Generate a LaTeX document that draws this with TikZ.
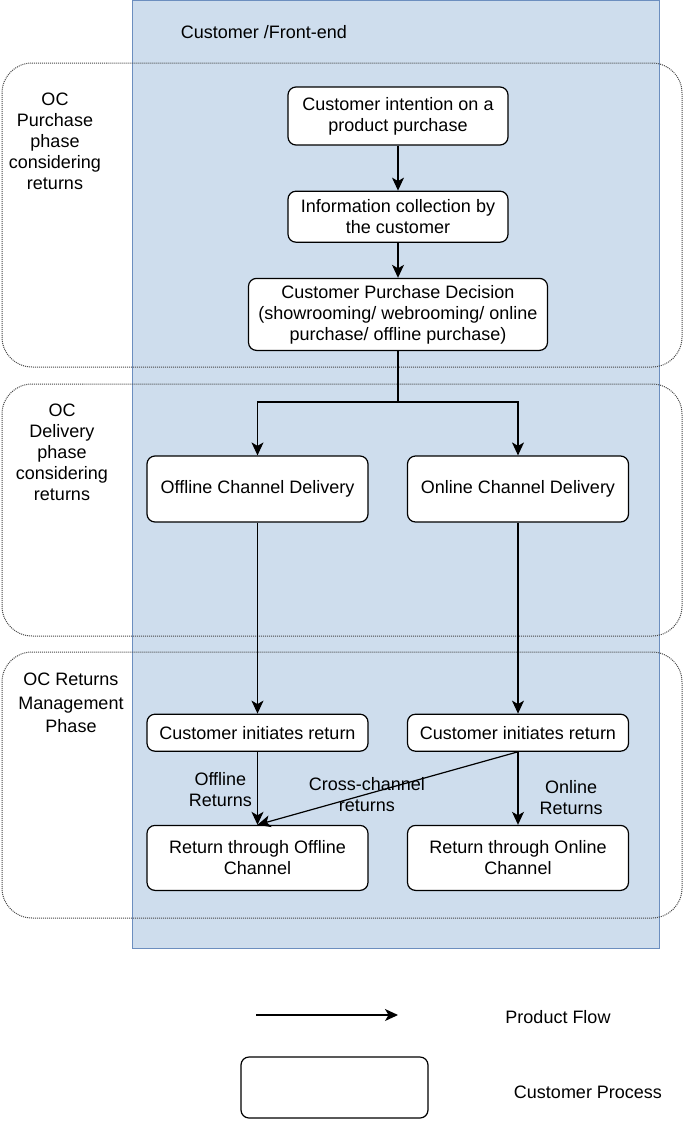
\documentclass[tikz,border=0pt]{standalone}
\usepackage{fontspec}
\setmainfont{Liberation Sans}
\usepackage{tikz}
\usetikzlibrary{positioning,arrows.meta}
\definecolor{laneFill}{RGB}{206,221,237}
\definecolor{laneLine}{RGB}{108,142,191}
\definecolor{phLine}{RGB}{70,70,70}
\tikzset{
  comp/.style={rectangle, rounded corners=8pt, draw=black, fill=white,
               line width=1.2pt, align=center, inner sep=2pt},
  flow/.style={-{Stealth[length=13pt,width=12pt,inset=3.5pt]}, draw=black, line width=1.2pt},
  phase/.style={draw=phLine, densely dotted, line width=1pt, rounded corners=30pt},
  lane/.style={draw=laneLine, fill=laneFill, line width=0.8pt},
  lbl/.style={align=center, inner sep=1pt},
}
\begin{document}
\begin{tikzpicture}[x=1pt, y=-1pt,
    every node/.append style={font=\fontsize{18}{21}\selectfont}]
  \useasboundingbox (0,0) rectangle (685,1122);

  % ===== lane and phases ================================================
  \draw[lane] (132,0) rectangle (659,948);
  \node[lbl] (lanelbl) at (264,32) {Customer /Front-end};
  \draw[phase] (2,63) rectangle (682,367);
  \draw[phase] (2,384) rectangle (682,636);
  \draw[phase] (2,652) rectangle (682,918);
  \node[lbl] (ph1lbl) at (55,141) {OC\\Purchase\\phase\\considering\\returns};
  \node[lbl] (ph2lbl) at (62,452) {OC\\Delivery\\phase\\considering\\returns};
  \node[lbl, font=\fontsize{18}{23.5}\selectfont] (ph3lbl) at (71,703)
    {OC Returns\\Management\\Phase};

  % ===== purchase phase =================================================
  \node[comp, minimum width=220pt, minimum height=58pt] (intent) at (398,116)
    {Customer intention on a\\product purchase};
  \node[comp, minimum width=220pt, minimum height=51pt, below=45pt of intent] (info)
    {Information collection by\\the customer};
  \node[comp, minimum width=299pt, minimum height=72pt, below=35pt of info] (decide)
    {Customer Purchase Decision\\(showrooming/ webrooming/ online\\purchase/ offline purchase)};

  % ===== delivery phase =================================================
  \node[comp, minimum width=221pt, minimum height=66pt] (offdel) at (257.5,489)
    {Offline Channel Delivery};
  \node[comp, minimum width=221pt, minimum height=66pt] (onldel) at (518,489)
    {Online Channel Delivery};
  \coordinate (split) at (398,402);

  % ===== returns phase ==================================================
  \node[comp, minimum width=221pt, minimum height=37pt, below=191pt of offdel] (offinit)
    {Customer initiates return};
  \node[comp, minimum width=221pt, minimum height=37pt, below=191pt of onldel] (onlinit)
    {Customer initiates return};
  \node[comp, minimum width=221pt, minimum height=65pt, below=73pt of offinit] (offret)
    {Return through Offline\\Channel};
  \node[comp, minimum width=221pt, minimum height=65pt, below=73pt of onlinit] (onlret)
    {Return through Online\\Channel};

  % ===== flows ==========================================================
  \draw[flow] (intent) -- (info);
  \draw[flow] (info) -- (decide);
  \draw[flow] (decide.south) -- (split) -| (offdel.north);
  \draw[flow] (split) -| (onldel.north);
  \draw[flow] (offdel) -- (offinit);
  \draw[flow] (onldel) -- (onlinit);
  \draw[flow] (offinit) -- node[lbl, left=4pt, pos=0.52]{Offline\\Returns} (offret);
  \draw[flow] (onlinit) -- node[lbl, right=20pt, pos=0.62]{Online\\Returns} (onlret);
  \draw[flow] (onlinit.south) -- node[lbl, pos=0.58]{Cross-channel\\returns} (offret.north);

  % ===== legend =========================================================
  \coordinate (lgA) at (256,1015);
  \coordinate (lgB) at (398,1015);
  \draw[flow] (lgA) -- (lgB);
  \node[lbl] (lgflow) at (558,1017) {Product Flow};
  \node[comp, minimum width=187pt, minimum height=61pt] (lgbox) at (334.5,1087.5) {};
  \node[lbl] (lgproc) at (588,1092) {Customer Process};

\end{tikzpicture}
\end{document}
